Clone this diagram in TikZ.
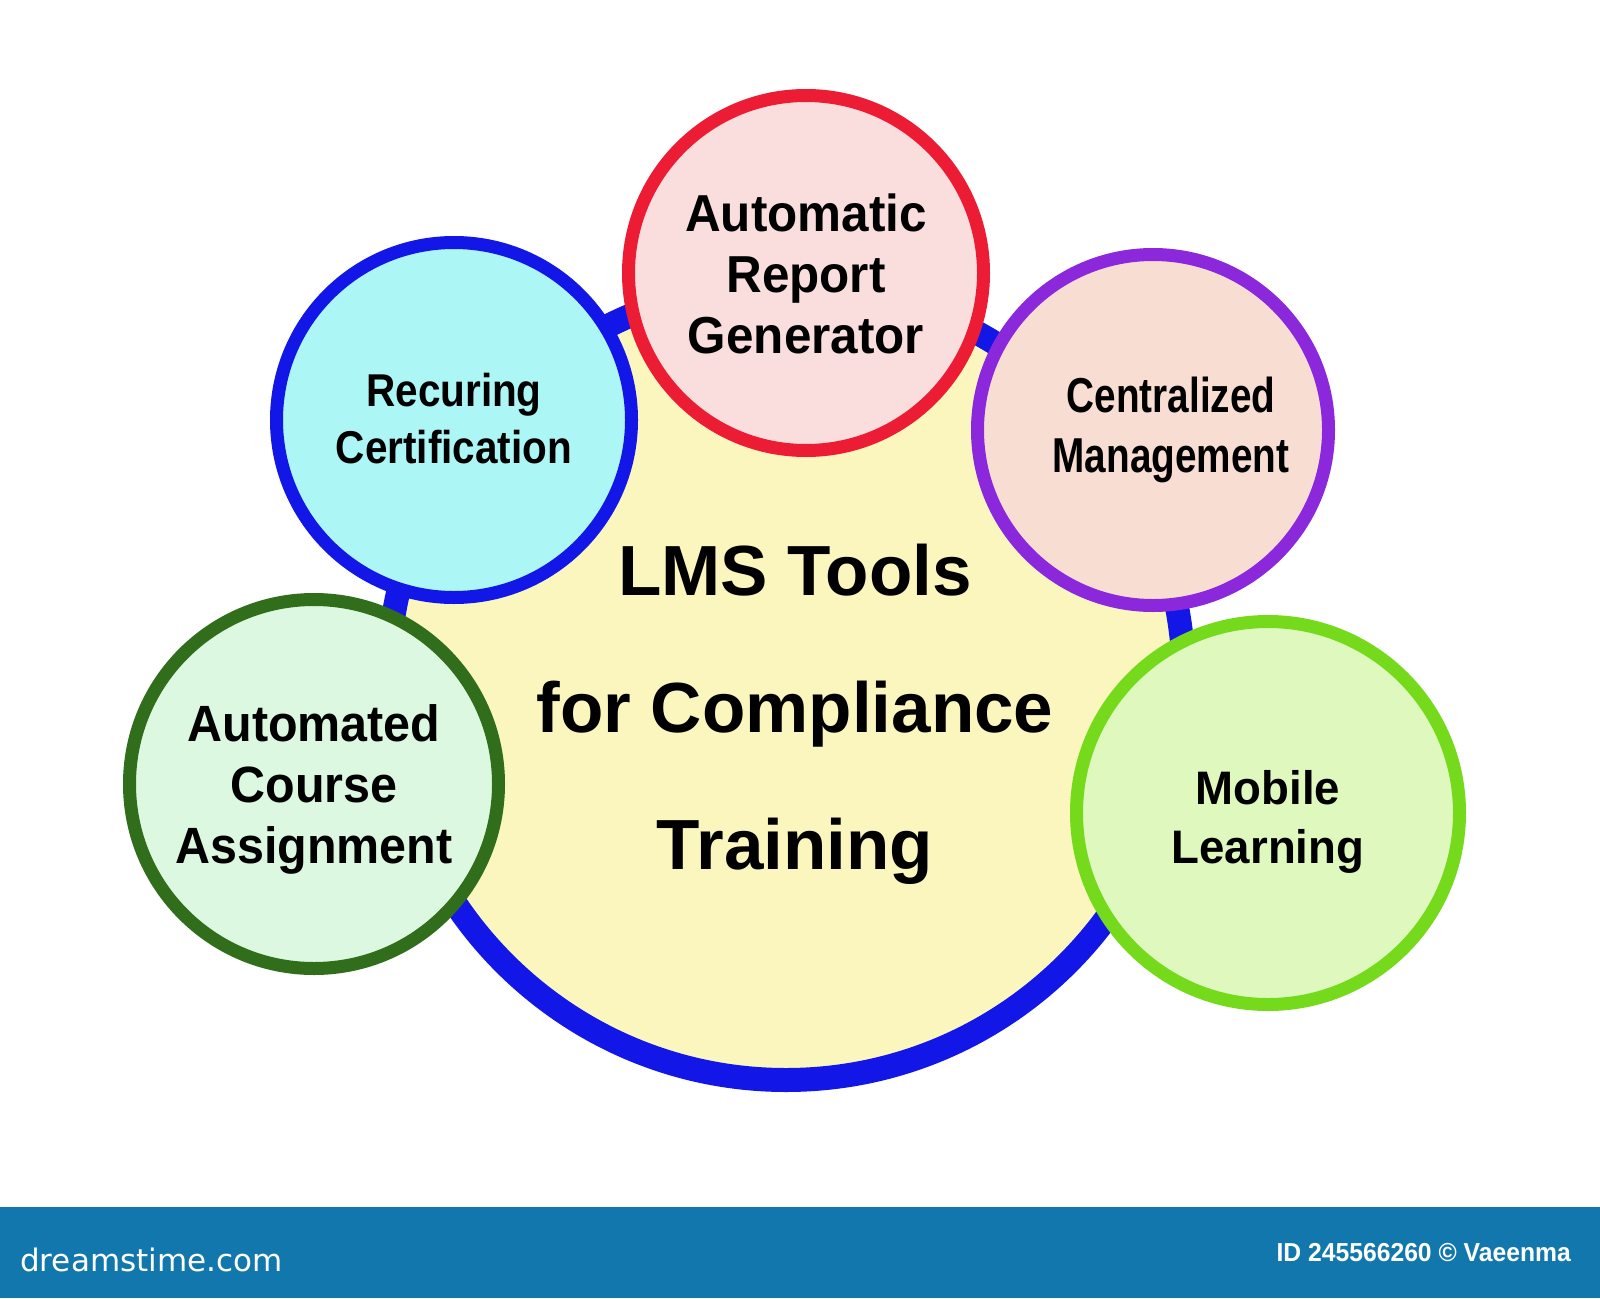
\documentclass[tikz,border=0pt]{standalone}
\usepackage{fontspec}
\setmainfont{Liberation Sans}
\newfontfamily\brandfont{DejaVu Sans}
\usepackage{graphicx}
\usetikzlibrary{arrows.meta}
\tikzset{
    >=Stealth,
    every node/.style={inner sep=0pt}
}
% stacked label, squeezed sideways and dropped a little
\newcommand{\narrowtext}[3][0pt]{\raisebox{-#1}[\height][\depth]{\scalebox{#2}[1]{\begin{tabular}{@{}c@{}}#3\end{tabular}}}}

\begin{document}
\begin{tikzpicture}[x=1pt,y=-1pt]
  % colours
  \definecolor{hubFill}{RGB}{250,246,190}    % pale yellow
  \definecolor{ringBlue}{RGB}{18,22,230}     % strong blue
  \definecolor{redRim}{RGB}{236,28,52}
  \definecolor{pinkFill}{RGB}{250,222,222}
  \definecolor{cyanFill}{RGB}{172,246,246}
  \definecolor{purpleRim}{RGB}{140,40,220}
  \definecolor{peachFill}{RGB}{248,222,210}
  \definecolor{forestRim}{RGB}{48,110,28}
  \definecolor{mintFill}{RGB}{220,248,224}
  \definecolor{limeRim}{RGB}{118,218,28}
  \definecolor{limeFill}{RGB}{222,248,190}
  \definecolor{bannerBlue}{RGB}{17,119,173}

  % common style for the circles
  \tikzset{
    bubble/.style={
      circle,
      draw,
      line width=13pt,
      align=center,
      inner sep=0pt
    }
  }

  \useasboundingbox (0,0) rectangle (1600,1298);

  % hub circle behind everything
  \node[bubble, draw=ringBlue, line width=24pt, fill=hubFill, minimum size=796pt] (hub) at (786,682) {};
  \node[font=\fontsize{71}{137}\selectfont\bfseries, align=center] (title) at (795,714)
    {LMS Tools\\for Compliance\\Training};

  % the five tools round it
  \node[bubble, draw=redRim, fill=pinkFill, minimum size=355pt,
        font=\fontsize{52}{61}\selectfont\bfseries] (report) at (806,273)
    {\narrowtext[7pt]{0.95}{Automatic\\Report\\Generator}};
  \node[bubble, draw=ringBlue, fill=cyanFill, minimum size=355pt,
        font=\fontsize{46}{57}\selectfont\bfseries] (recur) at (454,420)
    {\narrowtext[4pt]{0.88}{Recuring\\Certification}};
  \node[bubble, draw=purpleRim, fill=peachFill, minimum size=351pt,
        font=\fontsize{49}{60}\selectfont\bfseries] (central) at (1153,430)
    {\hspace*{36pt}\narrowtext{0.79}{Centralized\\Management}};
  \node[bubble, draw=forestRim, fill=mintFill, minimum size=369pt,
        font=\fontsize{51}{61}\selectfont\bfseries] (assign) at (314,784)
    {\narrowtext[6pt]{0.95}{Automated\\Course\\Assignment}};
  \node[bubble, draw=limeRim, fill=limeFill, minimum size=383pt,
        font=\fontsize{47}{59}\selectfont\bfseries] (mobile) at (1268,813)
    {\narrowtext[9pt]{0.97}{Mobile\\Learning}};

  % stock banner
  \fill[bannerBlue] (0,1207) rectangle (1600,1298);
  \node[text=white, font=\brandfont\fontsize{31}{31}\selectfont, anchor=west] (brand) at (20,1260) {dreamstime.com};
  \node[text=white, font=\fontsize{26}{26}\selectfont\bfseries, anchor=east] (stockid) at (1571,1253)
    {\scalebox{0.95}[1]{ID 245566260 © Vaeenma}};
\end{tikzpicture}
\end{document}
